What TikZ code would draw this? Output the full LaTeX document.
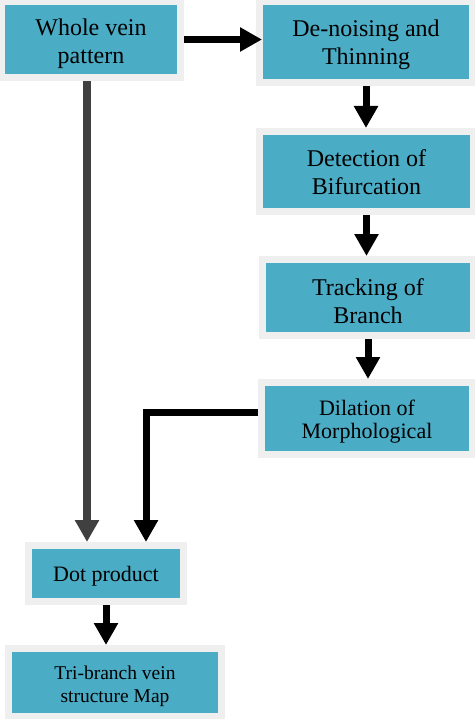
\documentclass[tikz,border=0pt]{standalone}
\usepackage{fontspec}
\setmainfont{Liberation Serif}
\usetikzlibrary{arrows.meta,calc}
\definecolor{boxfill}{HTML}{4BACC6}
\definecolor{boxedge}{HTML}{EFEFEF}
\definecolor{leadgray}{HTML}{404040}

\begin{document}
\begin{tikzpicture}[
    x=1pt, y=-1pt,
    line cap=butt, line join=miter,
    box/.style={fill=boxfill, draw=boxedge, line width=7pt, inner sep=0pt,
                align=center, text=black, text depth=0pt,
                font=\fontsize{24}{28}\selectfont},
    flow/.style={black, line width=7pt,
                 -{Triangle[length=22pt,width=23pt]}},
    bypass/.style={leadgray, line width=8pt,
                   -{Triangle[length=22pt,width=23pt]}},
]
\useasboundingbox (0,0) rectangle (474,719);

% ============================================================
% Boxes
% ============================================================
\node[box, minimum width=179pt, minimum height=76pt, text height=49pt]
  (whole) at (91,39.5) {Whole vein\\pattern};
\node[box, minimum width=213pt, minimum height=81pt, text height=46pt]
  (denoise) at (366,42) {De-noising and\\Thinning};
\node[box, minimum width=214pt, minimum height=80pt, text height=47pt]
  (bifur) at (366.5,171.5) {Detection of\\Bifurcation};
\node[box, minimum width=211pt, minimum height=76pt, text height=51pt]
  (track) at (368,297.5) {Tracking of\\Branch};
\node[box, minimum width=211pt, minimum height=72pt, text height=40pt,
      font=\fontsize{22}{23.5}\selectfont] (dilate) at (367,418.5)
  {Dilation of\\Morphological};
\node[box, minimum width=155pt, minimum height=56pt, text height=15pt,
      font=\fontsize{22}{25}\selectfont] (dotprod) at (106,573.5)
  {Dot product};
\node[box, minimum width=213pt, minimum height=68pt, text height=40pt,
      font=\fontsize{19.5}{23}\selectfont] (trimap) at (115,682.5)
  {Tri-branch vein\\structure Map};

% ============================================================
% Main chain
% ============================================================
\draw[flow, shorten >=-6pt] (whole.east) -- (denoise.west |- whole.east);
\draw[flow] (denoise.south) -- (denoise.south |- bifur.north);
\draw[flow] (bifur.south)   -- (bifur.south |- track.north);
\draw[flow] (track.south)   -- (track.south |- dilate.north);

% Dilation back to dot product (elbow)
\coordinate (bend) at ($(dotprod.north)+(40,0)$);
\draw[flow] ([yshift=6pt]dilate.west) -| (bend);

% Whole pattern straight down to dot product
\coordinate (leadtop) at ($(whole.south)+(-4,0)$);
\draw[bypass] (leadtop) -- (leadtop |- dotprod.north);

% Dot product to final map
\draw[flow] (dotprod.south) -- (dotprod.south |- trimap.north);

\end{tikzpicture}
\end{document}
